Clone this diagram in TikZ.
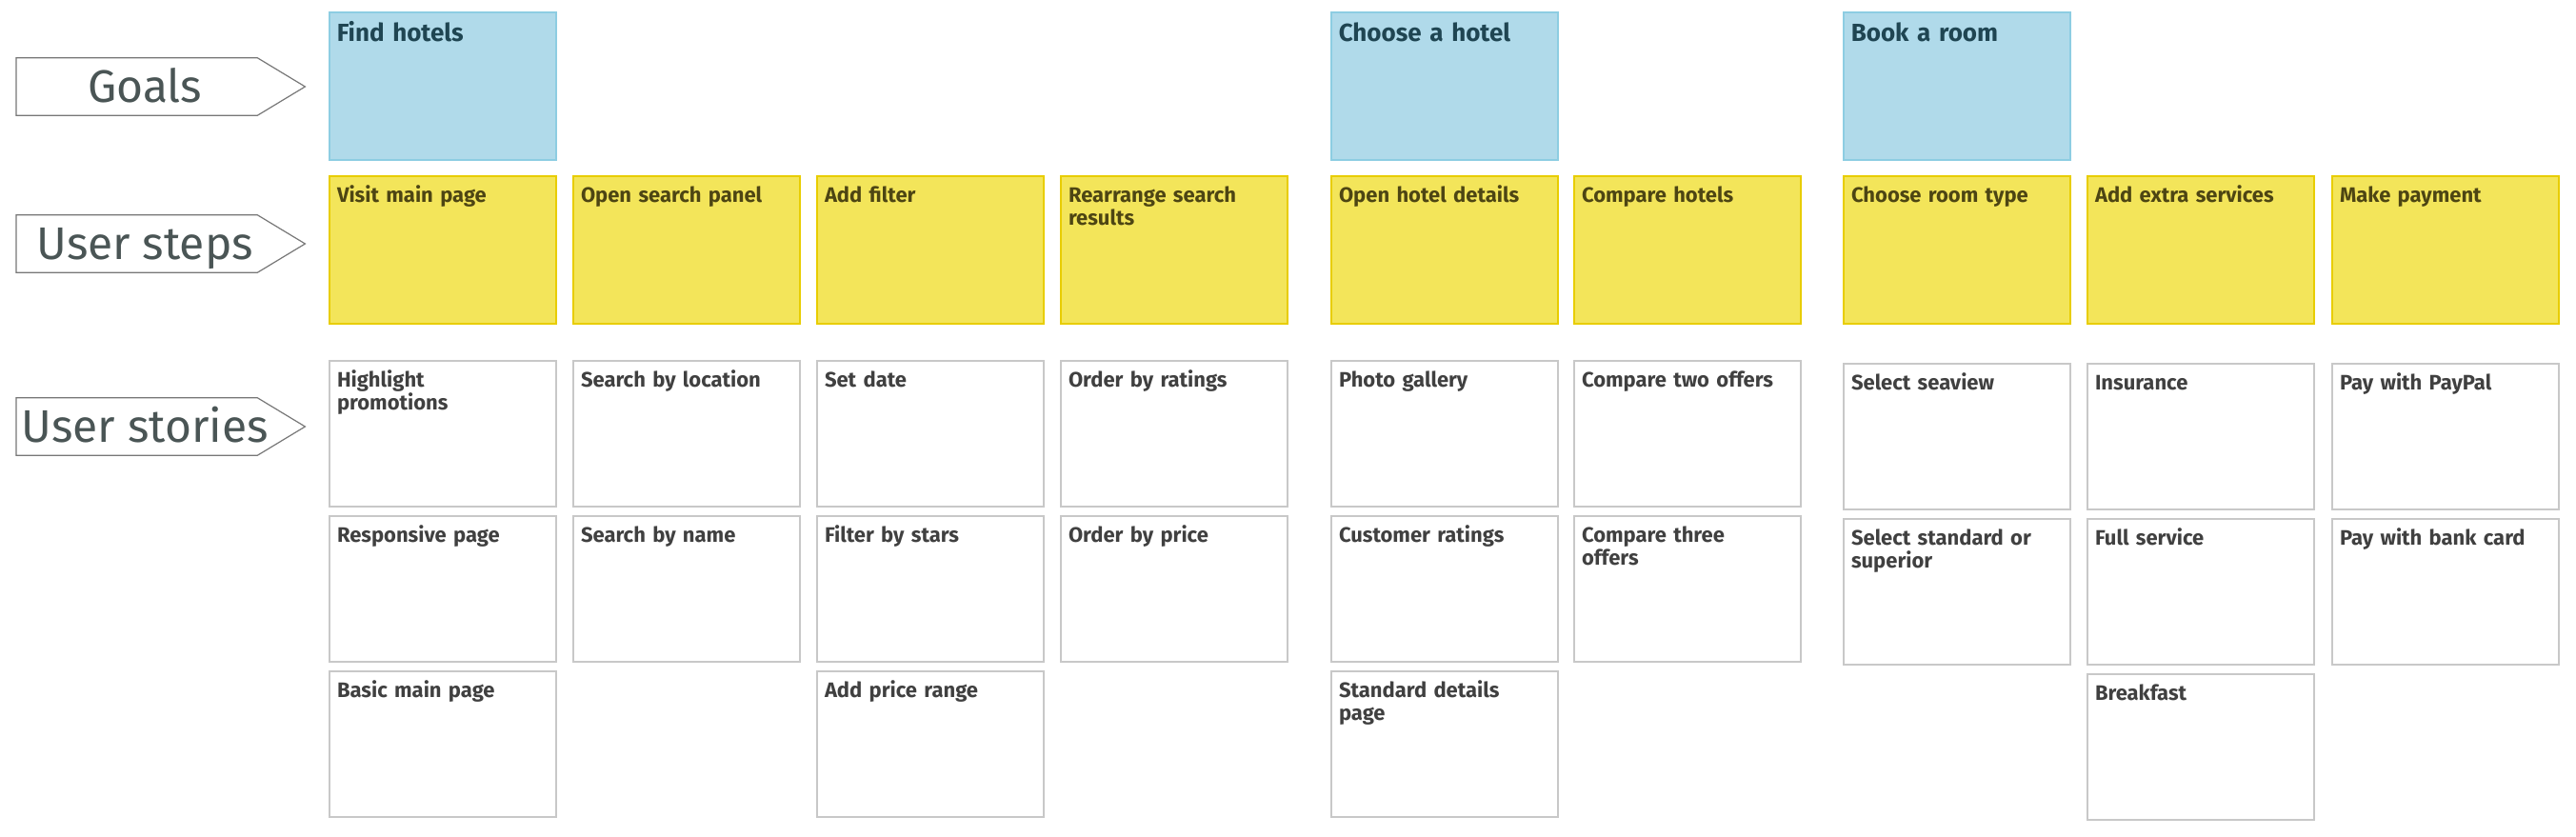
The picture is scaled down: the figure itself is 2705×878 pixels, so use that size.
\documentclass[tikz,border=0pt]{standalone}
\usepackage{fontspec}
\setmainfont{Fira Sans}
\usepackage{xcolor}
\usepackage{tikz}
\definecolor{goalfill}{HTML}{B0DAEA}
\definecolor{goaldraw}{HTML}{8DCDE2}
\definecolor{goaltext}{HTML}{1F4552}
\definecolor{stepfill}{HTML}{F3E55A}
\definecolor{stepdraw}{HTML}{E8CD00}
\definecolor{steptext}{HTML}{4D4513}
\definecolor{storydraw}{HTML}{C8C8C8}
\definecolor{storytext}{HTML}{404040}
\definecolor{tagdraw}{HTML}{777777}
\definecolor{tagtext}{HTML}{4A5555}

\begin{document}
\begin{tikzpicture}[x=1pt,y=-1pt]
    \useasboundingbox (0,0) rectangle (2705,878);

    \def\ca{345}
    \def\cb{601}
    \def\cc{857}
    \def\cd{1113}
    \def\ce{1397}
    \def\cf{1652}
    \def\cg{1935}
    \def\ch{2191}
    \def\ci{2448}

    \tikzstyle{card}=[anchor=north west,inner xsep=8pt,inner ysep=11pt,text width=222pt,text height=16pt,align=left,font=\fontsize{22}{24}\selectfont\bfseries]
    \tikzstyle{goalcard}=[card,fill=goalfill,draw=goaldraw,line width=1.5pt,text height=20pt,text depth=113pt,text=goaltext,font=\fontsize{26}{28}\selectfont\bfseries]
    \tikzstyle{stepcard}=[card,fill=stepfill,draw=stepdraw,line width=2pt,text depth=117pt,text=steptext]
    \tikzstyle{storycard}=[card,fill=white,draw=storydraw,line width=2pt,text depth=115pt,text=storytext]
    \tikzstyle{rowtag}=[anchor=west,minimum width=270pt,minimum height=60pt,inner sep=0pt,text height=33pt,text depth=0pt,text=tagtext,font=\fontsize{48}{50}\selectfont]
    \tikzstyle{tagline}=[draw=tagdraw,line width=1.2pt]

    \node[rowtag] (goalsT) at (17,91) {Goals};
    \node[rowtag] (stepsT) at (17,256) {User steps};
    \node[rowtag] (storiesT) at (17,448) {User stories};

    \draw[tagline] (goalsT.north west) -- ([xshift=-17pt]goalsT.north east) -- ([xshift=33pt]goalsT.east) -- ([xshift=-17pt]goalsT.south east) -- (goalsT.south west) -- cycle;
    \draw[tagline] (stepsT.north west) -- ([xshift=-17pt]stepsT.north east) -- ([xshift=33pt]stepsT.east) -- ([xshift=-17pt]stepsT.south east) -- (stepsT.south west) -- cycle;
    \draw[tagline] (storiesT.north west) -- ([xshift=-17pt]storiesT.north east) -- ([xshift=33pt]storiesT.east) -- ([xshift=-17pt]storiesT.south east) -- (storiesT.south west) -- cycle;

    \node[goalcard] (findG) at (\ca,12) {Find hotels};
    \node[goalcard] (chooseG) at (\ce,12) {Choose a hotel};
    \node[goalcard] (bookG) at (\cg,12) {Book a room};

    \node[stepcard] (visitS) at (\ca,184) {Visit main page};
    \node[stepcard] (searchS) at (\cb,184) {Open search panel};
    \node[stepcard] (filterS) at (\cc,184) {Add filter};
    \node[stepcard] (orderS) at (\cd,184) {Rearrange search\\results};
    \node[stepcard] (detailsS) at (\ce,184) {Open hotel details};
    \node[stepcard] (compareS) at (\cf,184) {Compare hotels};
    \node[stepcard] (roomS) at (\cg,184) {Choose room type};
    \node[stepcard] (extraS) at (\ch,184) {Add extra services};
    \node[stepcard] (payS) at (\ci,184) {Make payment};

    \node[storycard] (visitA) at (\ca,378) {Highlight\\promotions};
    \node[storycard] (visitB) at (\ca,541) {Responsive page};
    \node[storycard] (visitC) at (\ca,704) {Basic main page};

    \node[storycard] (searchA) at (\cb,378) {Search by location};
    \node[storycard] (searchB) at (\cb,541) {Search by name};

    \node[storycard] (filterA) at (\cc,378) {Set date};
    \node[storycard] (filterB) at (\cc,541) {Filter by stars};
    \node[storycard] (filterC) at (\cc,704) {Add price range};

    \node[storycard] (orderA) at (\cd,378) {Order by ratings};
    \node[storycard] (orderB) at (\cd,541) {Order by price};

    \node[storycard] (detailsA) at (\ce,378) {Photo gallery};
    \node[storycard] (detailsB) at (\ce,541) {Customer ratings};
    \node[storycard] (detailsC) at (\ce,704) {Standard details\\page};

    \node[storycard] (compareA) at (\cf,378) {Compare two offers};
    \node[storycard] (compareB) at (\cf,541) {Compare three\\offers};

    \node[storycard] (roomA) at (\cg,381) {Select seaview};
    \node[storycard] (roomB) at (\cg,544) {Select standard or\\superior};

    \node[storycard] (extraA) at (\ch,381) {Insurance};
    \node[storycard] (extraB) at (\ch,544) {Full service};
    \node[storycard] (extraC) at (\ch,707) {Breakfast};

    \node[storycard] (payA) at (\ci,381) {Pay with PayPal};
    \node[storycard] (payB) at (\ci,544) {Pay with bank card};

\end{tikzpicture}
\end{document}
